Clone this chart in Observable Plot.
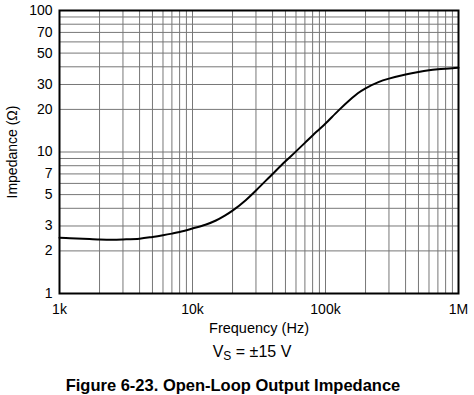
<!DOCTYPE html>
<html>
<head>
<meta charset="utf-8">
<script src="https://cdn.jsdelivr.net/npm/d3@7"></script>
<script src="https://cdn.jsdelivr.net/npm/@observablehq/plot@0.6"></script>
<style>
  html, body { margin: 0; padding: 0; background: #fff; }
  body { width: 474px; font-family: "Liberation Sans", Arial, sans-serif; color: #000; }
  #cond { height: 34px; line-height: 34px; margin-left: 30px; text-align: center; font-size: 16px; }
  #cond sub { font-size: 0.75em; vertical-align: -0.25em; }
  #caption { width: 466px; height: 32px; line-height: 32px; text-align: center; font-size: 16.5px; font-weight: bold; }
</style>
</head>
<body>
<div id="chart"></div>
<div id="cond">V<sub>S</sub> = ±15 V</div>
<div id="caption">Figure 6-23. Open-Loop Output Impedance</div>
<script>
// Frequency (Hz) and open-loop output impedance (Ω)
const freq = [1000, 1200, 1500, 2000, 2500, 3000, 4000, 5000, 6000, 7000, 8000, 10000, 12500, 15000, 17500, 20000, 25000, 30000, 40000, 50000, 60000, 70000, 80000, 90000, 100000, 125000, 150000, 175000, 200000, 250000, 300000, 400000, 500000, 600000, 700000, 800000, 900000, 1000000];
const impedance = [2.48, 2.46, 2.44, 2.41, 2.40, 2.41, 2.44, 2.51, 2.58, 2.65, 2.72, 2.88, 3.06, 3.28, 3.55, 3.85, 4.55, 5.35, 7.00, 8.60, 10.1, 11.6, 13.1, 14.5, 15.9, 19.6, 23.0, 26.0, 28.2, 31.2, 33.0, 35.3, 36.8, 37.8, 38.4, 38.8, 39.1, 39.4];

const xTicks = [1e3, 1e4, 1e5, 1e6];
const xTickLabels = ["1k", "10k", "100k", "1M"];
const yTicks = [1, 2, 3, 5, 7, 10, 20, 30, 50, 70, 100];
const yTickLabels = ["1", "2", "3", "5", "7", "10", "20", "30", "50", "70", "100"];
const xGrid = [1e3,2e3,3e3,4e3,5e3,6e3,7e3,8e3,9e3,1e4,2e4,3e4,4e4,5e4,6e4,7e4,8e4,9e4,1e5,2e5,3e5,4e5,5e5,6e5,7e5,8e5,9e5,1e6];
const yGrid = [1,2,3,4,5,6,7,8,9,10,20,30,40,50,60,70,80,90,100];
const xLabel = "Frequency (Hz)";
const yLabel = "Impedance (Ω)";

const data = freq.map((f, i) => ({f, z: impedance[i]}));

const chart = Plot.plot({
  width: 474,
  height: 335,
  marginLeft: 59,
  marginRight: 16,
  marginTop: 10,
  marginBottom: 42,
  style: {fontFamily: "'Liberation Sans', Arial, sans-serif", fontSize: "14px", color: "#000", background: "#fff", overflow: "visible"},
  x: {type: "log", domain: [1e3, 1e6], axis: null},
  y: {
    type: "log", domain: [1, 100], ticks: [], tickSize: 0,
    label: yLabel, labelAnchor: "center", labelArrow: "none", labelOffset: 52
  },
  marks: [
    Plot.ruleX(xGrid, {stroke: "#777", strokeWidth: 1}),
    Plot.ruleY(yGrid, {stroke: "#777", strokeWidth: 1}),
    Plot.text(xTicks, {x: d => d, text: (d, i) => xTickLabels[i], frameAnchor: "bottom", lineAnchor: "top", dy: 11, fontSize: 14, fill: "#000"}),
    Plot.text(yTicks, {y: d => d, text: (d, i) => yTickLabels[i], frameAnchor: "left", textAnchor: "end", dx: -7, fontSize: 14, fill: "#000"}),
    Plot.text([xLabel], {text: d => d, frameAnchor: "bottom", textAnchor: "middle", lineAnchor: "top", dy: 29, fontSize: 14.5, fill: "#000"}),
    Plot.line(data, {x: "f", y: "z", stroke: "#000", strokeWidth: 2, curve: "catmull-rom"}),
    Plot.frame({stroke: "#000", strokeWidth: 2})
  ]
});
document.getElementById("chart").appendChild(chart);
</script>
</body>
</html>
